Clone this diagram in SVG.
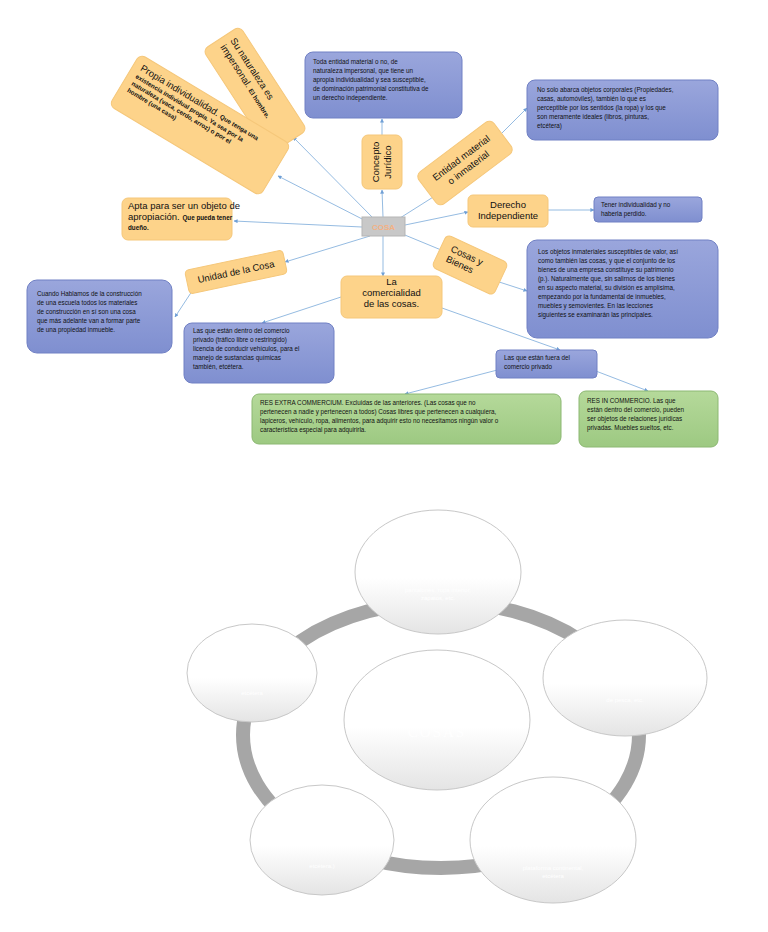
<svg xmlns="http://www.w3.org/2000/svg" width="768" height="932" viewBox="0 0 768 932">
<defs>
<linearGradient id="bl" x1="0" y1="0" x2="0" y2="1"><stop offset="0" stop-color="#9aa6dc"/><stop offset="1" stop-color="#7f8fd0"/></linearGradient>
<linearGradient id="gr" x1="0" y1="0" x2="0" y2="1"><stop offset="0" stop-color="#b5d99a"/><stop offset="1" stop-color="#9dc982"/></linearGradient>
<linearGradient id="wh" x1="0" y1="0" x2="0" y2="1"><stop offset="0" stop-color="#ffffff"/><stop offset="0.55" stop-color="#ffffff"/><stop offset="1" stop-color="#e4e4e4"/></linearGradient>
<marker id="ar" viewBox="0 0 10 10" refX="9" refY="5" markerWidth="5" markerHeight="5" orient="auto"><path d="M0,0L10,5L0,10z" fill="#6f9fd6"/></marker>
</defs>
<style>
.o{fill:#fdd38a;stroke:#f5c77a;stroke-width:1}
.b{fill:url(#bl);stroke:#7080c4;stroke-width:1}
.g{fill:url(#gr);stroke:#8cb872;stroke-width:1}
.t{font-family:"Liberation Sans",Arial,sans-serif;fill:#111}
.s{font-size:6.3px}
.m{font-size:9.5px}
.c line{stroke:#7aaad9;stroke-width:0.8;marker-end:url(#ar)}
.e{fill:url(#wh);stroke:#c8c8c8;stroke-width:1}
.w{font-family:"Liberation Sans",Arial,sans-serif;fill:#fff;font-size:6px;text-anchor:middle}
</style>
<rect width="768" height="932" fill="#fff"/>
<g class="c" id="connectors">
<line x1="375" y1="220" x2="293" y2="137"/>
<line x1="368" y1="222" x2="278" y2="176"/>
<line x1="362" y1="227" x2="234" y2="221"/>
<line x1="383" y1="217" x2="382" y2="190"/>
<line x1="382" y1="135" x2="382" y2="119"/>
<line x1="400" y1="218" x2="438" y2="194"/>
<line x1="492" y1="143" x2="527" y2="108"/>
<line x1="405" y1="225" x2="468" y2="212"/>
<line x1="548" y1="210" x2="594" y2="210"/>
<line x1="400" y1="233" x2="446" y2="252"/>
<line x1="493" y1="280" x2="527" y2="291"/>
<line x1="370" y1="236" x2="285" y2="262"/>
<line x1="198" y1="282" x2="175" y2="317"/>
<line x1="383" y1="236" x2="383" y2="276"/>
<line x1="341" y1="297" x2="262" y2="323"/>
<line x1="442" y1="308" x2="560" y2="350"/>
<line x1="505" y1="368" x2="405" y2="394"/>
<line x1="588" y1="368" x2="648" y2="391"/>
</g>
<g id="cosa"><rect x="362" y="217" width="43" height="19" fill="#c8c8c8" stroke="#b5b5b5"/><text x="383.5" y="230" class="t" font-size="8" font-weight="bold" fill="#f4b183" style="fill:#f4b183" text-anchor="middle">COSA</text></g>
<g id="naturaleza" transform="translate(255,90) rotate(57)"><rect x="-62" y="-22" width="124" height="44" rx="6" class="o"/><text class="t m" x="-55" y="-6">Su naturaleza es</text><text class="t m" x="-55" y="6">impersonal. <tspan font-size="6.5" font-weight="bold">El hombre.</tspan></text></g>
<g id="propia" transform="translate(200,125) rotate(31)"><rect x="-88" y="-30" width="176" height="60" rx="6" class="o"/><text class="t" x="-80" y="-16" font-size="9.5">Propia individualidad. <tspan font-size="6.3" font-weight="bold">Que tenga una</tspan></text><text class="t s" font-weight="bold" x="-80" y="-7">existencia individual propia. Ya sea por la</text><text class="t s" font-weight="bold" x="-80" y="1">naturaleza (vaca, cerdo, arroz) o por el</text><text class="t s" font-weight="bold" x="-80" y="9">hombre (una casa)</text></g>
<g id="apta"><rect x="122" y="198" width="110" height="42" rx="6" class="o"/><text class="t m" x="128" y="209">Apta para ser un objeto de</text><text class="t" x="128" y="220" font-size="9.5">apropiación. <tspan font-size="6.3" font-weight="bold">Que pueda tener</tspan></text><text class="t s" font-weight="bold" x="128" y="230">dueño.</text></g>
<g id="concepto" transform="translate(382,162) rotate(-90)"><rect x="-27" y="-20" width="54" height="40" rx="6" class="o"/><text class="t m" text-anchor="middle" x="0" y="-3">Concepto</text><text class="t m" text-anchor="middle" x="0" y="9">Jurídico</text></g>
<g id="def"><rect x="305" y="52" width="157" height="66" rx="8" class="b"/><text class="t s" x="313" y="64">Toda entidad material o no, de</text><text class="t s" x="313" y="73">naturaleza impersonal, que tiene un</text><text class="t s" x="313" y="82">apropia individualidad y sea susceptible,</text><text class="t s" x="313" y="91">de dominación patrimonial constitutiva de</text><text class="t s" x="313" y="100">un derecho independiente.</text></g>
<g id="entidad" transform="translate(465,163) rotate(-37)"><rect x="-47" y="-20" width="94" height="40" rx="6" class="o"/><text class="t m" text-anchor="middle" x="0" y="-3">Entidad material</text><text class="t m" text-anchor="middle" x="0" y="9">o inmaterial</text></g>
<g id="nosolo"><rect x="527" y="80" width="191" height="60" rx="8" class="b"/><text class="t s" x="537" y="92">No solo abarca objetos corporales (Propiedades,</text><text class="t s" x="537" y="101">casas, automóviles), también lo que es</text><text class="t s" x="537" y="110">perceptible por los sentidos (la ropa) y los que</text><text class="t s" x="537" y="119">son meramente ideales (libros, pinturas,</text><text class="t s" x="537" y="128">etcétera)</text></g>
<g id="derecho"><rect x="468" y="195" width="80" height="32" rx="5" class="o"/><text class="t m" text-anchor="middle" x="508" y="208">Derecho</text><text class="t m" text-anchor="middle" x="508" y="219">Independiente</text></g>
<g id="tener"><rect x="594" y="197" width="108" height="25" rx="4" class="b"/><text class="t s" x="601" y="207">Tener individualidad y no</text><text class="t s" x="601" y="216">haberla perdido.</text></g>
<g id="cosasbienes" transform="translate(470,265) rotate(25)"><rect x="-34" y="-18" width="68" height="36" rx="5" class="o"/><text class="t m" x="-24" y="-4">Cosas y</text><text class="t m" x="-24" y="7">Bienes</text></g>
<g id="objetos"><rect x="527" y="240" width="191" height="98" rx="10" class="b"/><text class="t s" x="538" y="254">Los objetos inmateriales susceptibles de valor, así</text><text class="t s" x="538" y="263">como también las cosas, y que el conjunto de los</text><text class="t s" x="538" y="272">bienes de una empresa constituye su patrimonio</text><text class="t s" x="538" y="281">(p.). Naturalmente que, sin salirnos de los bienes</text><text class="t s" x="538" y="290">en su aspecto material, su división es amplísima,</text><text class="t s" x="538" y="299">empezando por la fundamental de inmuebles,</text><text class="t s" x="538" y="308">muebles y semovientes. En las lecciones</text><text class="t s" x="538" y="317">siguientes se examinarán las principales.</text></g>
<g id="unidad" transform="translate(236,272) rotate(-12)"><rect x="-50" y="-12" width="100" height="24" rx="4" class="o"/><text class="t m" text-anchor="middle" x="0" y="3">Unidad de la Cosa</text></g>
<g id="cuando"><rect x="27" y="280" width="145" height="73" rx="10" class="b"/><text class="t s" x="37" y="296">Cuando Hablamos de la construcción</text><text class="t s" x="37" y="305">de una escuela todos los materiales</text><text class="t s" x="37" y="314">de construcción en sí son una cosa</text><text class="t s" x="37" y="323">que más adelante van a formar parte</text><text class="t s" x="37" y="332">de una propiedad inmueble.</text></g>
<g id="comercialidad"><rect x="341" y="276" width="101" height="42" rx="6" class="o"/><text class="t m" text-anchor="middle" x="391.5" y="285">La</text><text class="t m" text-anchor="middle" x="391.5" y="296">comercialidad</text><text class="t m" text-anchor="middle" x="391.5" y="307">de las cosas.</text></g>
<g id="dentro"><rect x="184" y="323" width="150" height="60" rx="8" class="b"/><text class="t s" x="193" y="333">Las que están dentro del comercio</text><text class="t s" x="193" y="342">privado (tráfico libre o restringido)</text><text class="t s" x="193" y="351">licencia de conducir vehículos, para el</text><text class="t s" x="193" y="360">manejo de sustancias químicas</text><text class="t s" x="193" y="369">también, etcétera.</text></g>
<g id="fuera"><rect x="496" y="350" width="101" height="28" rx="4" class="b"/><text class="t s" x="504" y="360">Las que están fuera del</text><text class="t s" x="504" y="369">comercio privado</text></g>
<g id="extra"><rect x="252" y="394" width="309" height="50" rx="7" class="g"/><text class="t s" x="260" y="405">RES EXTRA COMMERCIUM. Excluidas de las anteriores. (Las cosas que no</text><text class="t s" x="260" y="414">pertenecen a nadie y pertenecen a todos) Cosas libres que pertenecen a cualquiera,</text><text class="t s" x="260" y="423">lapiceros, vehículo, ropa, alimentos, para adquirir esto no necesitamos ningún valor o</text><text class="t s" x="260" y="432">característica especial para adquirirla.</text></g>
<g id="in"><rect x="579" y="391" width="139" height="56" rx="7" class="g"/><text class="t s" x="587" y="403">RES IN COMMERCIO. Las que</text><text class="t s" x="587" y="412">están dentro del comercio, pueden</text><text class="t s" x="587" y="421">ser objetos de relaciones jurídicas</text><text class="t s" x="587" y="430">privadas. Muebles sueltos, etc.</text></g>
<g id="cycle">
<ellipse cx="441" cy="735" rx="198" ry="133" fill="none" stroke="#a6a6a6" stroke-width="14"/>
</g>
<g id="c-top"><ellipse cx="438" cy="572" rx="83" ry="62" class="e"/><text class="w" x="438" y="592">pantalones, ropa interior,</text><text class="w" x="438" y="600">zapatos, etc.</text></g>
<g id="c-left"><ellipse cx="252" cy="673" rx="65" ry="49" class="e"/><text class="w" x="252" y="695">etcétera</text></g>
<g id="c-right"><ellipse cx="625" cy="678" rx="82" ry="58" class="e"/><text class="w" x="625" y="702">de pesca, etc.</text></g>
<g id="c-center"><ellipse cx="437" cy="720" rx="93" ry="70" class="e"/><text x="437" y="737" font-family="Liberation Serif,serif" font-size="15" fill="#fff" text-anchor="middle" letter-spacing="2">COSAS</text></g>
<g id="c-bl"><ellipse cx="322" cy="840" rx="72" ry="55" class="e"/><text class="w" x="322" y="868">etcétera.)</text></g>
<g id="c-br"><ellipse cx="553" cy="840" rx="83" ry="63" class="e"/><text class="w" x="553" y="870">plataforma continental,</text><text class="w" x="553" y="878">etcétera</text></g>
</svg>
